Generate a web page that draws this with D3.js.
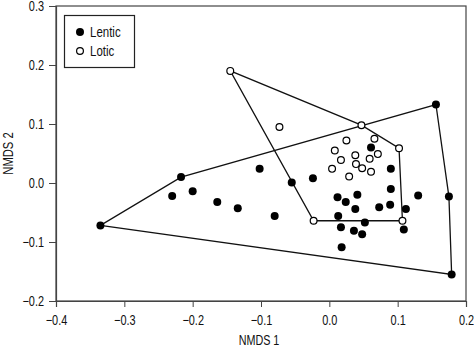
<!DOCTYPE html>
<html>
<head>
<meta charset="utf-8">
<script src="https://cdn.jsdelivr.net/npm/d3@7"></script>
<style>
  html, body { margin: 0; padding: 0; background: #fff; }
  svg { display: block; }
  text { font-family: "Liberation Sans", Arial, sans-serif; fill: #111; }
</style>
</head>
<body>
<svg id="chart" width="474" height="348"></svg>
<script>
// Lentic sites (filled) — NMDS 1, NMDS 2
const lenticX = [0.156, -0.217, -0.335, 0.179, 0.175, -0.230, -0.200, -0.164, -0.134, -0.102, -0.080, -0.055, -0.024, 0.061, 0.090, 0.090, 0.089, 0.073, 0.130, 0.112, 0.109, 0.012, 0.024, 0.041, 0.038, 0.013, 0.052, 0.017, 0.036, 0.048, 0.018];
const lenticY = [0.133, 0.010, -0.072, -0.155, -0.023, -0.022, -0.014, -0.032, -0.043, 0.024, -0.056, 0.001, 0.008, 0.060, 0.024, -0.010, -0.037, -0.041, -0.021, -0.044, -0.079, -0.024, -0.032, -0.020, -0.044, -0.056, -0.067, -0.075, -0.081, -0.087, -0.109];
// Lotic sites (open)
const loticX = [-0.145, -0.073, 0.047, 0.102, 0.107, -0.023, 0.025, 0.066, 0.008, 0.038, 0.071, 0.017, 0.059, 0.039, 0.004, 0.048, 0.061, 0.029];
const loticY = [0.190, 0.095, 0.098, 0.059, -0.064, -0.064, 0.072, 0.075, 0.055, 0.047, 0.049, 0.039, 0.041, 0.032, 0.024, 0.025, 0.019, 0.011];

const xTicks = [-0.4, -0.3, -0.2, -0.1, 0.0, 0.1, 0.2];
const yTicks = [-0.2, -0.1, 0.0, 0.1, 0.2, 0.3];
const groups = ["Lentic", "Lotic"];
const xTitle = "NMDS 1";
const yTitle = "NMDS 2";

const svg = d3.select("#chart");
const margin = {left: 56, top: 6, right: 8, bottom: 47};
const W = 474, H = 348;

const x = d3.scaleLinear().domain([-0.4, 0.2]).range([margin.left, W - margin.right]);
const y = d3.scaleLinear().domain([-0.2, 0.3]).range([H - margin.bottom, margin.top]);

const fmt = d => d3.format(".1f")(d).replace("-", "\u2013");

// condense text horizontally (the reference uses a narrow sans face)
function condense(sel, k) {
  sel.each(function () {
    const w = this.getComputedTextLength();
    d3.select(this).attr("textLength", w * k).attr("lengthAdjust", "spacingAndGlyphs");
  });
}

// frame
svg.append("rect")
  .attr("x", x(-0.4)).attr("y", y(0.3))
  .attr("width", x(0.2) - x(-0.4)).attr("height", y(-0.2) - y(0.3))
  .attr("fill", "none").attr("stroke", "#444").attr("stroke-width", 1.2);

const xAxis = svg.append("g")
  .attr("transform", `translate(0,${y(-0.2)})`)
  .call(d3.axisBottom(x).tickValues(xTicks).tickFormat(fmt).tickSize(6).tickPadding(8));
const yAxis = svg.append("g")
  .attr("transform", `translate(${x(-0.4)},0)`)
  .call(d3.axisLeft(y).tickValues(yTicks).tickFormat(fmt).tickSize(7).tickPadding(5));
[xAxis, yAxis].forEach(g => {
  g.select(".domain").attr("stroke", "#444").attr("stroke-width", 1.2);
  g.selectAll(".tick line").attr("stroke", "#444").attr("stroke-width", 1);
  g.selectAll(".tick text").attr("font-size", 14).attr("fill", "#111")
    .style("font-family", '"Liberation Sans", Arial, sans-serif')
    .call(condense, 0.78);
});

// axis titles
svg.append("text").attr("x", (x(-0.4) + x(0.2)) / 2 - 2).attr("y", 345)
  .attr("text-anchor", "middle").attr("font-size", 14).text(xTitle).call(condense, 0.77);
svg.append("text").attr("transform", `translate(13,${(y(-0.2) + y(0.3)) / 2}) rotate(-90)`)
  .attr("text-anchor", "middle").attr("font-size", 14).text(yTitle).call(condense, 0.8);

// data
const lentic = lenticX.map((v, i) => [x(v), y(lenticY[i])]);
const lotic = loticX.map((v, i) => [x(v), y(loticY[i])]);

// convex hulls
[lentic, lotic].forEach(pts => {
  const hull = d3.polygonHull(pts);
  svg.append("path")
    .attr("d", d3.line()(hull) + "Z")
    .attr("fill", "none").attr("stroke", "#111").attr("stroke-width", 1.3);
});

svg.append("g").selectAll("circle").data(lentic).join("circle")
  .attr("cx", d => d[0]).attr("cy", d => d[1]).attr("r", 4)
  .attr("fill", "#000");
svg.append("g").selectAll("circle").data(lotic).join("circle")
  .attr("cx", d => d[0]).attr("cy", d => d[1]).attr("r", 3.4)
  .attr("fill", "#fff").attr("stroke", "#000").attr("stroke-width", 1.2);

// legend
const lg = svg.append("g");
lg.append("rect").attr("x", 64.5).attr("y", 15.5).attr("width", 70).attr("height", 52)
  .attr("fill", "#fff").attr("stroke", "#222").attr("stroke-width", 1.2);
groups.forEach((g, i) => {
  const cy = 32 + i * 19;
  lg.append("circle").attr("cx", 80).attr("cy", cy).attr("r", i === 0 ? 4 : 3.4)
    .attr("fill", i === 0 ? "#000" : "#fff").attr("stroke", "#000").attr("stroke-width", i === 0 ? 0 : 1.2);
  lg.append("text").attr("x", 90).attr("y", cy + 5).attr("font-size", 14).text(g).call(condense, 0.82);
});
</script>
</body>
</html>
